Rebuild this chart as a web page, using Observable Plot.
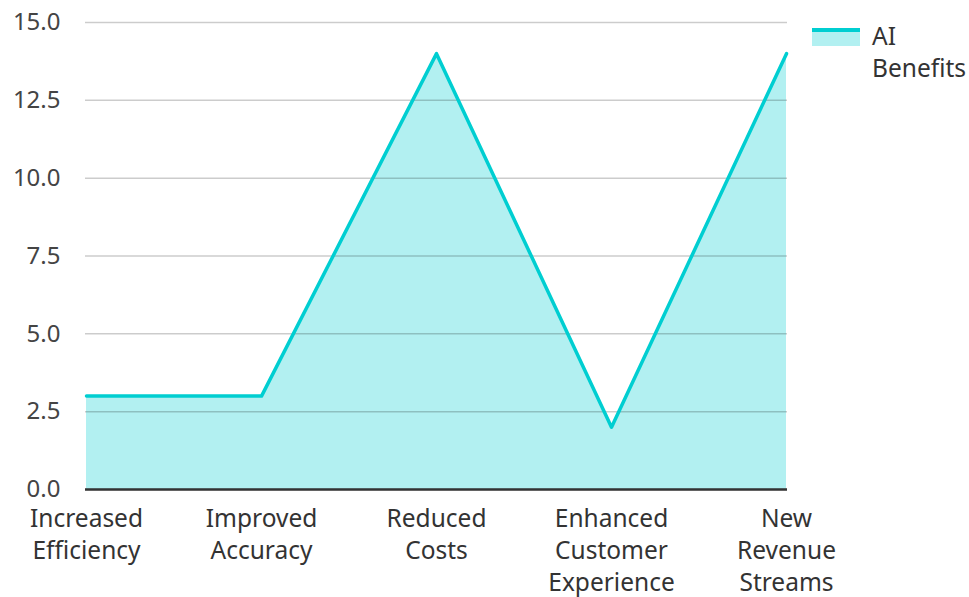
<!DOCTYPE html>
<html>
<head>
<meta charset="utf-8">
<script src="https://cdn.jsdelivr.net/npm/d3@7"></script>
<script src="https://cdn.jsdelivr.net/npm/@observablehq/plot@0.6"></script>
<style>
  html, body { margin: 0; padding: 0; background: #fff; }
  #wrap { position: relative; width: 969px; height: 597px; font-family: "Noto Sans", "Open Sans", sans-serif; }
  #legend { position: absolute; left: 812px; top: 20px; display: flex; align-items: flex-start; font-size: 24.5px; color: #333; line-height: 32px; }
  #legend .sw { width: 48px; height: 18px; margin-top: 8px; margin-right: 12px; background: rgba(0,206,209,0.3); border-top: 4px solid #00CED1; box-sizing: border-box; }
</style>
</head>
<body>
<div id="wrap">
  <div id="chart"></div>
  <div id="legend"><div class="sw"></div><div id="legtext"></div></div>
</div>
<script>
const categories = ["Increased Efficiency", "Improved Accuracy", "Reduced Costs", "Enhanced Customer Experience", "New Revenue Streams"];
const tickLabels = ["Increased\nEfficiency", "Improved\nAccuracy", "Reduced\nCosts", "Enhanced\nCustomer\nExperience", "New\nRevenue\nStreams"];
const values = [3, 3, 14, 2, 14];
const seriesName = "AI Benefits";
const yTicks = [0, 2.5, 5, 7.5, 10, 12.5, 15];

const data = categories.map((c, i) => ({category: c, value: values[i]}));
const labelOf = new Map(categories.map((c, i) => [c, tickLabels[i]]));

document.getElementById("legtext").innerHTML = "AI<br>Benefits";

const chart = Plot.plot({
  width: 969,
  height: 597,
  marginLeft: 85,
  marginRight: 182,
  marginTop: 22,
  marginBottom: 108,
  style: {fontFamily: "'Noto Sans', 'Open Sans', sans-serif", fontSize: "24px", color: "#333", background: "#fff"},
  x: {type: "point", domain: categories, padding: 0},
  y: {domain: [0, 15]},
  marks: [
    Plot.areaY(data, {x: "category", y: "value", fill: "#00CED1", fillOpacity: 0.3}),
    Plot.gridY(yTicks, {stroke: "#000", strokeOpacity: 0.2, strokeWidth: 1.5}),
    Plot.lineY(data, {x: "category", y: "value", stroke: "#00CED1", strokeWidth: 3.5}),
    Plot.ruleY([0], {stroke: "#333", strokeWidth: 2.5}),
    Plot.axisY({ticks: yTicks, tickFormat: d3.format(".1f"), tickSize: 0, tickPadding: 25, fontSize: 24, fill: "#444", label: null}),
    Plot.axisX({tickFormat: d => labelOf.get(d), tickSize: 0, tickPadding: 15, fontSize: 24.5, lineHeight: 1.31, fill: "#333", label: null})
  ]
});
document.getElementById("chart").appendChild(chart);
</script>
</body>
</html>
